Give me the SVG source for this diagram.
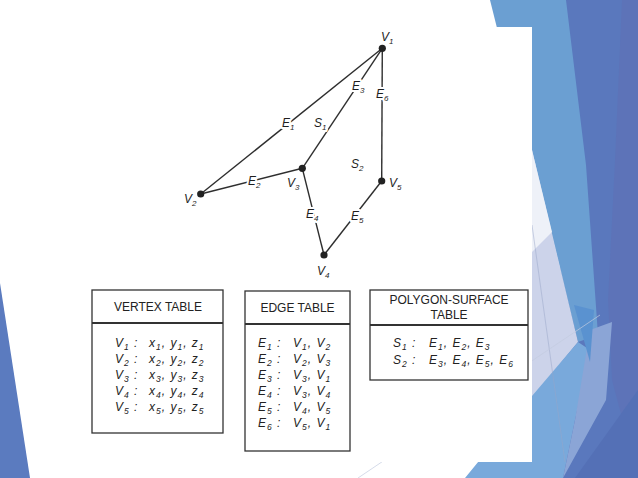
<svg xmlns="http://www.w3.org/2000/svg" width="638" height="478" viewBox="0 0 638 478">
<style>
.lbl{font-family:"Liberation Sans",Arial,sans-serif;font-style:italic;font-size:12px;fill:#1e1e1e;stroke:#fff;stroke-width:4;paint-order:stroke;stroke-linejoin:round}
.sub{font-size:8px}
.edge{stroke:#2e2e2e;stroke-width:1.4;fill:none}
.dot{fill:#222}
.box{fill:none;stroke:#333;stroke-width:1.3}
.sep{stroke:#333;stroke-width:2}
.hdr{font-family:"Liberation Sans",Arial,sans-serif;font-size:12px;fill:#222;text-anchor:middle}
.row{font-family:"Liberation Sans",Arial,sans-serif;font-style:italic;font-size:12px;letter-spacing:1px;fill:#222}
.rs{font-size:8.5px}
</style>
<rect width="638" height="478" fill="#fff"/>
<g id="background">
  <polygon points="0,283 30,478 0,478" fill="#5b7bbf"/>
  <polygon points="560,0 638,0 638,478 560,478" fill="#5a78bd"/>
  <polygon points="622,0 638,0 638,478 612,380 608,300 615,160" fill="#5d73b8"/>
  <polygon points="490,0 566,0 586,165 598,335 578,342 532,155 500,40" fill="#6b9fd2"/>
  <polygon points="532,150 578,342 532,398" fill="#ccd3ea"/>
  <polygon points="532,150 552,232 532,252" fill="#eef1f8"/>
  <polygon points="465,478 563,478 575,420 590,350 578,342 532,396" fill="#79a9db"/>
  <polygon points="590,330 612,322 606,400 563,478 575,420" fill="#8ba5d6"/>
  <polygon points="574,305 594,310 590,362" fill="#5a92d0"/>
  <polygon points="575,478 638,478 638,390" fill="#5470b6"/>
  <line x1="532" y1="225" x2="565" y2="462" stroke="#9aa6c8" stroke-width="0.7" opacity="0.7"/>
  <line x1="358" y1="478" x2="600" y2="315" stroke="#c3cbe0" stroke-width="0.7"/>
  <rect x="92" y="27" width="440" height="435" fill="#fff"/>
</g>
<g id="connectors">
  <line class="edge" x1="382.3" y1="48.3" x2="200.7" y2="194"/>
  <line class="edge" x1="200.7" y1="194" x2="302.3" y2="168.3"/>
  <line class="edge" x1="302.3" y1="168.3" x2="382.3" y2="48.3"/>
  <line class="edge" x1="302.3" y1="168.3" x2="324" y2="255"/>
  <line class="edge" x1="324" y1="255" x2="381.7" y2="181"/>
  <line class="edge" x1="381.7" y1="181" x2="382.3" y2="48.3"/>
  <text class="lbl" x="282" y="127">E<tspan class="sub" dy="2.5">1</tspan></text>
  <text class="lbl" x="248" y="185">E<tspan class="sub" dy="2.5">2</tspan></text>
  <text class="lbl" x="352" y="90">E<tspan class="sub" dy="2.5">3</tspan></text>
  <text class="lbl" x="306" y="218">E<tspan class="sub" dy="2.5">4</tspan></text>
  <text class="lbl" x="351" y="220">E<tspan class="sub" dy="2.5">5</tspan></text>
  <text class="lbl" x="376" y="98">E<tspan class="sub" dy="2.5">6</tspan></text>
</g>
<g id="surfaces">
  <text class="lbl" x="314" y="127">S<tspan class="sub" dy="2.5">1</tspan></text>
  <text class="lbl" x="351" y="168">S<tspan class="sub" dy="2.5">2</tspan></text>
</g>
<g id="v1"><circle class="dot" cx="382.3" cy="48.3" r="3.6"/><text class="lbl" x="381" y="41">V<tspan class="sub" dy="2.5">1</tspan></text></g>
<g id="v2"><circle class="dot" cx="200.7" cy="194" r="3.6"/><text class="lbl" x="184" y="203">V<tspan class="sub" dy="2.5">2</tspan></text></g>
<g id="v3"><circle class="dot" cx="302.3" cy="168.3" r="3.6"/><text class="lbl" x="287" y="187">V<tspan class="sub" dy="2.5">3</tspan></text></g>
<g id="v4"><circle class="dot" cx="324" cy="255" r="3.6"/><text class="lbl" x="317" y="275">V<tspan class="sub" dy="2.5">4</tspan></text></g>
<g id="v5"><circle class="dot" cx="381.7" cy="181" r="3.6"/><text class="lbl" x="389" y="187">V<tspan class="sub" dy="2.5">5</tspan></text></g>
<g id="vertex-table">
  <rect class="box" x="92" y="290" width="131" height="143"/>
  <line class="sep" x1="92" y1="323" x2="223" y2="323"/>
  <text class="hdr" x="158" y="311">VERTEX TABLE</text>
  <text class="row" x="115" y="347">V<tspan class="rs" dy="3">1</tspan><tspan dy="-3"> :</tspan></text>
  <text class="row" x="149" y="347">x<tspan class="rs" dy="3">1</tspan><tspan dy="-3">, y</tspan><tspan class="rs" dy="3">1</tspan><tspan dy="-3">, z</tspan><tspan class="rs" dy="3">1</tspan></text>
  <text class="row" x="115" y="363">V<tspan class="rs" dy="3">2</tspan><tspan dy="-3"> :</tspan></text>
  <text class="row" x="149" y="363">x<tspan class="rs" dy="3">2</tspan><tspan dy="-3">, y</tspan><tspan class="rs" dy="3">2</tspan><tspan dy="-3">, z</tspan><tspan class="rs" dy="3">2</tspan></text>
  <text class="row" x="115" y="379">V<tspan class="rs" dy="3">3</tspan><tspan dy="-3"> :</tspan></text>
  <text class="row" x="149" y="379">x<tspan class="rs" dy="3">3</tspan><tspan dy="-3">, y</tspan><tspan class="rs" dy="3">3</tspan><tspan dy="-3">, z</tspan><tspan class="rs" dy="3">3</tspan></text>
  <text class="row" x="115" y="395">V<tspan class="rs" dy="3">4</tspan><tspan dy="-3"> :</tspan></text>
  <text class="row" x="149" y="395">x<tspan class="rs" dy="3">4</tspan><tspan dy="-3">, y</tspan><tspan class="rs" dy="3">4</tspan><tspan dy="-3">, z</tspan><tspan class="rs" dy="3">4</tspan></text>
  <text class="row" x="115" y="411">V<tspan class="rs" dy="3">5</tspan><tspan dy="-3"> :</tspan></text>
  <text class="row" x="149" y="411">x<tspan class="rs" dy="3">5</tspan><tspan dy="-3">, y</tspan><tspan class="rs" dy="3">5</tspan><tspan dy="-3">, z</tspan><tspan class="rs" dy="3">5</tspan></text>
</g>
<g id="edge-table">
  <rect class="box" x="245" y="291" width="105" height="160"/>
  <line class="sep" x1="245" y1="324" x2="350" y2="324"/>
  <text class="hdr" x="297.5" y="312">EDGE TABLE</text>
  <text class="row" x="258" y="347">E<tspan class="rs" dy="3">1</tspan><tspan dy="-3"> :</tspan></text>
  <text class="row" x="293" y="347">V<tspan class="rs" dy="3">1</tspan><tspan dy="-3">, V</tspan><tspan class="rs" dy="3">2</tspan></text>
  <text class="row" x="258" y="363">E<tspan class="rs" dy="3">2</tspan><tspan dy="-3"> :</tspan></text>
  <text class="row" x="293" y="363">V<tspan class="rs" dy="3">2</tspan><tspan dy="-3">, V</tspan><tspan class="rs" dy="3">3</tspan></text>
  <text class="row" x="258" y="379">E<tspan class="rs" dy="3">3</tspan><tspan dy="-3"> :</tspan></text>
  <text class="row" x="293" y="379">V<tspan class="rs" dy="3">3</tspan><tspan dy="-3">, V</tspan><tspan class="rs" dy="3">1</tspan></text>
  <text class="row" x="258" y="395">E<tspan class="rs" dy="3">4</tspan><tspan dy="-3"> :</tspan></text>
  <text class="row" x="293" y="395">V<tspan class="rs" dy="3">3</tspan><tspan dy="-3">, V</tspan><tspan class="rs" dy="3">4</tspan></text>
  <text class="row" x="258" y="411">E<tspan class="rs" dy="3">5</tspan><tspan dy="-3"> :</tspan></text>
  <text class="row" x="293" y="411">V<tspan class="rs" dy="3">4</tspan><tspan dy="-3">, V</tspan><tspan class="rs" dy="3">5</tspan></text>
  <text class="row" x="258" y="427">E<tspan class="rs" dy="3">6</tspan><tspan dy="-3"> :</tspan></text>
  <text class="row" x="293" y="427">V<tspan class="rs" dy="3">5</tspan><tspan dy="-3">, V</tspan><tspan class="rs" dy="3">1</tspan></text>
</g>
<g id="polygon-surface-table">
  <rect class="box" x="370" y="290" width="158" height="90"/>
  <line class="sep" x1="370" y1="325" x2="528" y2="325"/>
  <text class="hdr" x="449" y="304">POLYGON-SURFACE</text>
  <text class="hdr" x="449" y="319">TABLE</text>
  <text class="row" x="393" y="347">S<tspan class="rs" dy="3">1</tspan><tspan dy="-3"> :</tspan></text>
  <text class="row" x="429" y="347">E<tspan class="rs" dy="3">1</tspan><tspan dy="-3">, E</tspan><tspan class="rs" dy="3">2</tspan><tspan dy="-3">, E</tspan><tspan class="rs" dy="3">3</tspan></text>
  <text class="row" x="393" y="364">S<tspan class="rs" dy="3">2</tspan><tspan dy="-3"> :</tspan></text>
  <text class="row" x="429" y="364">E<tspan class="rs" dy="3">3</tspan><tspan dy="-3">, E</tspan><tspan class="rs" dy="3">4</tspan><tspan dy="-3">, E</tspan><tspan class="rs" dy="3">5</tspan><tspan dy="-3">, E</tspan><tspan class="rs" dy="3">6</tspan></text>
</g>
</svg>
